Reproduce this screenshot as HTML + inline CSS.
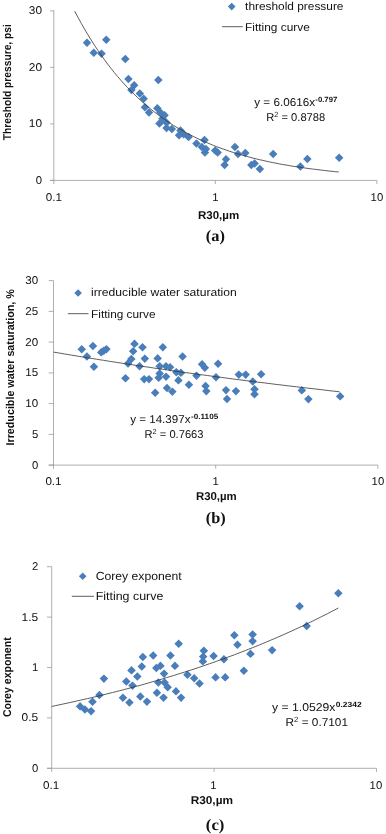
<!DOCTYPE html>
<html><head><meta charset="utf-8"><title>Figure</title>
<style>html,body{margin:0;padding:0;background:#fff}svg{display:block}</style></head>
<body><svg width="386" height="834" viewBox="0 0 386 834" text-rendering="geometricPrecision">
<rect width="386" height="834" fill="#fff"/>
<g stroke="#9a9a9a" stroke-width="0.8" fill="none" shape-rendering="auto">
<path d="M53.8 10.4V184.0"/>
<path d="M50.1 180.4H376.9"/>
<path d="M50.1 180.4H53.8"/>
<path d="M50.1 123.9H53.8"/>
<path d="M50.1 67.4H53.8"/>
<path d="M50.1 10.9H53.8"/>
<path d="M215.3 180.4v3.6"/>
<path d="M376.9 180.4v3.6"/>
</g>
<g fill="#111">
<text x="42.0" y="183.8" font-size="11.3" text-anchor="end" font-weight="normal" font-family='"Liberation Sans", Arial, sans-serif'>0</text>
<text x="42.0" y="127.3" font-size="11.3" text-anchor="end" font-weight="normal" font-family='"Liberation Sans", Arial, sans-serif' textLength="13.2" lengthAdjust="spacingAndGlyphs">10</text>
<text x="42.0" y="70.8" font-size="11.3" text-anchor="end" font-weight="normal" font-family='"Liberation Sans", Arial, sans-serif' textLength="13.2" lengthAdjust="spacingAndGlyphs">20</text>
<text x="42.0" y="14.3" font-size="11.3" text-anchor="end" font-weight="normal" font-family='"Liberation Sans", Arial, sans-serif' textLength="13.2" lengthAdjust="spacingAndGlyphs">30</text>
<text x="53.8" y="200.6" font-size="11.3" text-anchor="middle" font-weight="normal" font-family='"Liberation Sans", Arial, sans-serif' textLength="16.2" lengthAdjust="spacingAndGlyphs">0.1</text>
<text x="215.3" y="200.6" font-size="11.3" text-anchor="middle" font-weight="normal" font-family='"Liberation Sans", Arial, sans-serif'>1</text>
<text x="376.9" y="200.6" font-size="11.3" text-anchor="middle" font-weight="normal" font-family='"Liberation Sans", Arial, sans-serif' textLength="12.6" lengthAdjust="spacingAndGlyphs">10</text>
</g>
<g fill="#4a7ebb">
<path d="M87.0 38.5L91.2 42.8L87.0 47.0L82.8 42.8Z"/>
<path d="M106.3 35.5L110.5 39.7L106.3 44.0L102.0 39.7Z"/>
<path d="M93.8 48.5L98.0 52.7L93.8 57.0L89.5 52.7Z"/>
<path d="M101.5 49.4L105.8 53.6L101.5 57.9L97.2 53.6Z"/>
<path d="M125.3 54.8L129.6 59.0L125.3 63.2L121.0 59.0Z"/>
<path d="M128.4 74.7L132.7 78.9L128.4 83.2L124.2 78.9Z"/>
<path d="M134.2 81.0L138.4 85.3L134.2 89.5L129.9 85.3Z"/>
<path d="M131.4 85.8L135.7 90.1L131.4 94.3L127.2 90.1Z"/>
<path d="M139.8 89.2L144.1 93.4L139.8 97.7L135.6 93.4Z"/>
<path d="M143.7 94.5L147.9 98.7L143.7 103.0L139.4 98.7Z"/>
<path d="M158.3 75.7L162.6 79.9L158.3 84.2L154.1 79.9Z"/>
<path d="M144.9 103.0L149.2 107.3L144.9 111.5L140.7 107.3Z"/>
<path d="M149.0 108.2L153.2 112.5L149.0 116.8L144.8 112.5Z"/>
<path d="M157.3 104.0L161.6 108.3L157.3 112.5L153.1 108.3Z"/>
<path d="M160.4 108.2L164.7 112.5L160.4 116.8L156.2 112.5Z"/>
<path d="M164.6 111.0L168.8 115.2L164.6 119.5L160.3 115.2Z"/>
<path d="M162.5 114.5L166.8 118.7L162.5 123.0L158.2 118.7Z"/>
<path d="M159.4 119.2L163.7 123.5L159.4 127.8L155.2 123.5Z"/>
<path d="M166.6 118.5L170.8 122.8L166.6 127.0L162.3 122.8Z"/>
<path d="M166.6 123.8L170.8 128.0L166.6 132.2L162.3 128.0Z"/>
<path d="M171.8 124.8L176.1 129.1L171.8 133.3L167.6 129.1Z"/>
<path d="M180.5 126.2L184.8 130.4L180.5 134.7L176.2 130.4Z"/>
<path d="M179.1 131.1L183.3 135.3L179.1 139.6L174.8 135.3Z"/>
<path d="M183.6 130.1L187.8 134.3L183.6 138.6L179.3 134.3Z"/>
<path d="M188.5 132.8L192.8 137.1L188.5 141.3L184.2 137.1Z"/>
<path d="M196.4 139.3L200.7 143.6L196.4 147.8L192.2 143.6Z"/>
<path d="M204.5 135.8L208.8 140.1L204.5 144.3L200.2 140.1Z"/>
<path d="M201.8 142.7L206.1 146.9L201.8 151.2L197.6 146.9Z"/>
<path d="M205.9 144.8L210.2 149.0L205.9 153.2L201.7 149.0Z"/>
<path d="M204.9 148.2L209.2 152.5L204.9 156.8L200.7 152.5Z"/>
<path d="M215.2 146.2L219.4 150.4L215.2 154.7L210.9 150.4Z"/>
<path d="M217.7 148.2L221.9 152.5L217.7 156.8L213.4 152.5Z"/>
<path d="M226.0 155.1L230.2 159.3L226.0 163.6L221.8 159.3Z"/>
<path d="M224.6 160.7L228.8 164.9L224.6 169.2L220.3 164.9Z"/>
<path d="M234.9 142.7L239.2 146.9L234.9 151.2L230.7 146.9Z"/>
<path d="M238.0 149.7L242.2 153.9L238.0 158.2L233.8 153.9Z"/>
<path d="M245.3 148.8L249.6 153.1L245.3 157.3L241.1 153.1Z"/>
<path d="M251.3 160.7L255.6 164.9L251.3 169.2L247.1 164.9Z"/>
<path d="M254.6 159.2L258.9 163.5L254.6 167.8L250.3 163.5Z"/>
<path d="M259.9 164.7L264.1 168.9L259.9 173.2L255.6 168.9Z"/>
<path d="M273.2 149.7L277.4 153.9L273.2 158.2L268.9 153.9Z"/>
<path d="M300.4 162.2L304.6 166.4L300.4 170.7L296.1 166.4Z"/>
<path d="M307.4 154.8L311.6 159.1L307.4 163.3L303.1 159.1Z"/>
<path d="M339.2 153.4L343.4 157.7L339.2 161.9L334.9 157.7Z"/>
</g>
<path d="M74.7 11.2 L78.0 17.4 L81.3 23.4 L84.6 29.2 L87.9 34.7 L91.2 40.1 L94.5 45.3 L97.8 50.2 L101.1 55.0 L104.4 59.6 L107.7 64.1 L111.0 68.4 L114.3 72.5 L117.6 76.5 L120.9 80.3 L124.2 84.0 L127.5 87.5 L130.8 90.9 L134.1 94.2 L137.4 97.4 L140.7 100.5 L144.0 103.4 L147.3 106.2 L150.6 109.0 L153.9 111.6 L157.2 114.1 L160.5 116.6 L163.8 118.9 L167.1 121.2 L170.4 123.4 L173.7 125.5 L177.0 127.5 L180.3 129.4 L183.6 131.3 L186.9 133.1 L190.2 134.8 L193.5 136.5 L196.8 138.1 L200.1 139.7 L203.4 141.2 L206.8 142.6 L210.1 144.0 L213.4 145.4 L216.7 146.7 L220.0 147.9 L223.3 149.1 L226.6 150.2 L229.9 151.4 L233.2 152.4 L236.5 153.5 L239.8 154.4 L243.1 155.4 L246.4 156.3 L249.7 157.2 L253.0 158.1 L256.3 158.9 L259.6 159.7 L262.9 160.4 L266.2 161.2 L269.5 161.9 L272.8 162.6 L276.1 163.2 L279.4 163.9 L282.7 164.5 L286.0 165.0 L289.3 165.6 L292.6 166.2 L295.9 166.7 L299.2 167.2 L302.5 167.7 L305.8 168.1 L309.1 168.6 L312.4 169.0 L315.7 169.4 L319.0 169.8 L322.3 170.2 L325.6 170.6 L328.9 171.0 L332.2 171.3 L335.5 171.7 L338.8 172.0" fill="none" stroke="#333" stroke-width="0.8"/>
<g fill="#4a7ebb"><path d="M231.7 2.8L235.5 6.6L231.7 10.4L227.9 6.6Z"/></g>
<path d="M222.1 26.7H242.8" stroke="#333" stroke-width="0.8"/>
<g fill="#111">
<text x="245.1" y="9.8" font-size="11.3" text-anchor="start" font-weight="normal" font-family='"Liberation Sans", Arial, sans-serif' textLength="98.4" lengthAdjust="spacingAndGlyphs">threshold pressure</text>
<text x="245.1" y="31.1" font-size="11.3" text-anchor="start" font-weight="normal" font-family='"Liberation Sans", Arial, sans-serif' textLength="64.8" lengthAdjust="spacingAndGlyphs">Fitting curve</text>
<text x="254.2" y="105.7" font-size="11.3" font-family='"Liberation Sans", Arial, sans-serif'><tspan textLength="60.9" lengthAdjust="spacingAndGlyphs">y = 6.0616x</tspan></text>
<text x="315.3" y="101.7" font-size="7.5" font-weight="bold" font-family='"Liberation Sans", Arial, sans-serif' textLength="22.0" lengthAdjust="spacingAndGlyphs">-0.797</text>
<text x="266.2" y="120.6" font-size="11.3" font-family='"Liberation Sans", Arial, sans-serif' textLength="59.0" lengthAdjust="spacingAndGlyphs">R<tspan font-size="7.5" dy="-3.6">2</tspan><tspan dy="3.6"> = 0.8788</tspan></text>
<text x="198.0" y="219.2" font-size="11.3" text-anchor="start" font-weight="bold" font-family='"Liberation Sans", Arial, sans-serif' textLength="41.2" lengthAdjust="spacingAndGlyphs">R30,µm</text>
<text transform="translate(11.3 140.2) rotate(-90)" font-size="11.3" font-weight="bold" font-family='"Liberation Sans", Arial, sans-serif' textLength="116.0" lengthAdjust="spacingAndGlyphs">Threshold pressure, psi</text>
<text x="205.8" y="241.2" font-size="16" text-anchor="start" font-weight="bold" font-family='"Liberation Serif", "Times New Roman", serif' textLength="19.1" lengthAdjust="spacingAndGlyphs">(a)</text>
</g>
<g stroke="#9a9a9a" stroke-width="0.8" fill="none" shape-rendering="auto">
<path d="M53.5 280.6V468.7"/>
<path d="M48.7 465.1H377.9"/>
<path d="M48.7 465.1H53.5"/>
<path d="M48.7 434.4H53.5"/>
<path d="M48.7 403.6H53.5"/>
<path d="M48.7 372.9H53.5"/>
<path d="M48.7 342.1H53.5"/>
<path d="M48.7 311.4H53.5"/>
<path d="M48.7 280.6H53.5"/>
<path d="M215.7 465.1v3.6"/>
<path d="M377.9 465.1v3.6"/>
</g>
<g fill="#111">
<text x="38.2" y="468.5" font-size="11.3" text-anchor="end" font-weight="normal" font-family='"Liberation Sans", Arial, sans-serif'>0</text>
<text x="38.2" y="437.8" font-size="11.3" text-anchor="end" font-weight="normal" font-family='"Liberation Sans", Arial, sans-serif'>5</text>
<text x="38.2" y="407.0" font-size="11.3" text-anchor="end" font-weight="normal" font-family='"Liberation Sans", Arial, sans-serif' textLength="12.9" lengthAdjust="spacingAndGlyphs">10</text>
<text x="38.2" y="376.2" font-size="11.3" text-anchor="end" font-weight="normal" font-family='"Liberation Sans", Arial, sans-serif' textLength="12.9" lengthAdjust="spacingAndGlyphs">15</text>
<text x="38.2" y="345.5" font-size="11.3" text-anchor="end" font-weight="normal" font-family='"Liberation Sans", Arial, sans-serif' textLength="12.9" lengthAdjust="spacingAndGlyphs">20</text>
<text x="38.2" y="314.8" font-size="11.3" text-anchor="end" font-weight="normal" font-family='"Liberation Sans", Arial, sans-serif' textLength="12.9" lengthAdjust="spacingAndGlyphs">25</text>
<text x="38.2" y="284.0" font-size="11.3" text-anchor="end" font-weight="normal" font-family='"Liberation Sans", Arial, sans-serif' textLength="12.9" lengthAdjust="spacingAndGlyphs">30</text>
<text x="53.5" y="485.0" font-size="11.3" text-anchor="middle" font-weight="normal" font-family='"Liberation Sans", Arial, sans-serif' textLength="16.2" lengthAdjust="spacingAndGlyphs">0.1</text>
<text x="215.7" y="485.0" font-size="11.3" text-anchor="middle" font-weight="normal" font-family='"Liberation Sans", Arial, sans-serif'>1</text>
<text x="377.9" y="485.0" font-size="11.3" text-anchor="middle" font-weight="normal" font-family='"Liberation Sans", Arial, sans-serif' textLength="12.6" lengthAdjust="spacingAndGlyphs">10</text>
</g>
<g fill="#4a7ebb">
<path d="M81.7 345.1L86.0 349.3L81.7 353.6L77.5 349.3Z"/>
<path d="M92.9 341.8L97.2 346.0L92.9 350.2L88.7 346.0Z"/>
<path d="M86.9 352.2L91.2 356.5L86.9 360.8L82.7 356.5Z"/>
<path d="M93.9 362.4L98.2 366.7L93.9 370.9L89.7 366.7Z"/>
<path d="M101.2 348.1L105.5 352.4L101.2 356.6L97.0 352.4Z"/>
<path d="M106.4 344.9L110.7 349.1L106.4 353.4L102.2 349.1Z"/>
<path d="M103.8 346.4L108.0 350.7L103.8 354.9L99.5 350.7Z"/>
<path d="M125.5 374.1L129.8 378.3L125.5 382.6L121.2 378.3Z"/>
<path d="M128.0 359.2L132.2 363.5L128.0 367.8L123.8 363.5Z"/>
<path d="M134.5 339.6L138.8 343.9L134.5 348.1L130.2 343.9Z"/>
<path d="M142.5 342.9L146.8 347.2L142.5 351.4L138.2 347.2Z"/>
<path d="M133.2 347.1L137.4 351.3L133.2 355.6L128.9 351.3Z"/>
<path d="M131.3 354.8L135.6 359.0L131.3 363.2L127.1 359.0Z"/>
<path d="M144.8 354.4L149.1 358.6L144.8 362.9L140.6 358.6Z"/>
<path d="M139.6 362.1L143.8 366.3L139.6 370.6L135.3 366.3Z"/>
<path d="M144.2 374.9L148.4 379.1L144.2 383.4L139.9 379.1Z"/>
<path d="M149.0 374.9L153.2 379.1L149.0 383.4L144.8 379.1Z"/>
<path d="M162.8 342.9L167.1 347.2L162.8 351.4L158.6 347.2Z"/>
<path d="M157.7 354.1L161.9 358.4L157.7 362.6L153.4 358.4Z"/>
<path d="M159.7 362.1L163.9 366.3L159.7 370.6L155.4 366.3Z"/>
<path d="M166.0 362.1L170.2 366.3L166.0 370.6L161.8 366.3Z"/>
<path d="M170.1 363.1L174.3 367.3L170.1 371.6L165.8 367.3Z"/>
<path d="M159.7 369.2L163.9 373.5L159.7 377.8L155.4 373.5Z"/>
<path d="M158.7 373.4L162.9 377.7L158.7 381.9L154.4 377.7Z"/>
<path d="M166.0 372.4L170.2 376.6L166.0 380.9L161.8 376.6Z"/>
<path d="M155.2 388.6L159.4 392.8L155.2 397.1L150.9 392.8Z"/>
<path d="M167.0 383.8L171.2 388.0L167.0 392.2L162.8 388.0Z"/>
<path d="M172.3 387.4L176.6 391.6L172.3 395.9L168.1 391.6Z"/>
<path d="M182.6 352.2L186.8 356.5L182.6 360.8L178.3 356.5Z"/>
<path d="M176.3 367.9L180.6 372.1L176.3 376.4L172.1 372.1Z"/>
<path d="M180.9 368.6L185.2 372.9L180.9 377.1L176.7 372.9Z"/>
<path d="M178.4 376.1L182.7 380.4L178.4 384.6L174.2 380.4Z"/>
<path d="M188.9 380.4L193.2 384.7L188.9 388.9L184.7 384.7Z"/>
<path d="M196.5 371.4L200.8 375.6L196.5 379.9L192.2 375.6Z"/>
<path d="M202.1 359.9L206.3 364.2L202.1 368.4L197.8 364.2Z"/>
<path d="M204.8 363.4L209.1 367.7L204.8 371.9L200.6 367.7Z"/>
<path d="M205.6 381.8L209.8 386.0L205.6 390.2L201.3 386.0Z"/>
<path d="M206.3 386.9L210.6 391.1L206.3 395.4L202.1 391.1Z"/>
<path d="M218.1 359.6L222.3 363.8L218.1 368.1L213.8 363.8Z"/>
<path d="M216.0 373.1L220.2 377.3L216.0 381.6L211.8 377.3Z"/>
<path d="M226.0 385.9L230.2 390.1L226.0 394.4L221.8 390.1Z"/>
<path d="M227.0 394.8L231.2 399.0L227.0 403.2L222.8 399.0Z"/>
<path d="M235.9 386.9L240.2 391.1L235.9 395.4L231.7 391.1Z"/>
<path d="M238.8 370.4L243.1 374.6L238.8 378.9L234.6 374.6Z"/>
<path d="M245.7 370.4L249.9 374.6L245.7 378.9L241.4 374.6Z"/>
<path d="M252.8 377.2L257.1 381.5L252.8 385.8L248.6 381.5Z"/>
<path d="M261.1 369.9L265.4 374.2L261.1 378.4L256.9 374.2Z"/>
<path d="M254.5 385.1L258.8 389.3L254.5 393.6L250.2 389.3Z"/>
<path d="M254.5 390.1L258.8 394.3L254.5 398.6L250.2 394.3Z"/>
<path d="M301.8 386.1L306.1 390.4L301.8 394.6L297.6 390.4Z"/>
<path d="M308.4 394.9L312.6 399.1L308.4 403.4L304.1 399.1Z"/>
<path d="M340.2 392.1L344.4 396.4L340.2 400.6L335.9 396.4Z"/>
</g>
<path d="M53.5 352.1 L57.1 352.7 L60.7 353.3 L64.2 353.9 L67.8 354.5 L71.4 355.1 L75.0 355.7 L78.5 356.3 L82.1 356.9 L85.7 357.5 L89.3 358.1 L92.8 358.6 L96.4 359.2 L100.0 359.8 L103.6 360.3 L107.1 360.9 L110.7 361.5 L114.3 362.0 L117.9 362.6 L121.4 363.1 L125.0 363.7 L128.6 364.2 L132.2 364.8 L135.8 365.3 L139.3 365.8 L142.9 366.4 L146.5 366.9 L150.1 367.4 L153.6 368.0 L157.2 368.5 L160.8 369.0 L164.4 369.5 L167.9 370.0 L171.5 370.6 L175.1 371.1 L178.7 371.6 L182.2 372.1 L185.8 372.6 L189.4 373.1 L193.0 373.6 L196.6 374.1 L200.1 374.6 L203.7 375.0 L207.3 375.5 L210.9 376.0 L214.4 376.5 L218.0 377.0 L221.6 377.4 L225.2 377.9 L228.7 378.4 L232.3 378.9 L235.9 379.3 L239.5 379.8 L243.0 380.2 L246.6 380.7 L250.2 381.2 L253.8 381.6 L257.3 382.1 L260.9 382.5 L264.5 382.9 L268.1 383.4 L271.7 383.8 L275.2 384.3 L278.8 384.7 L282.4 385.1 L286.0 385.6 L289.5 386.0 L293.1 386.4 L296.7 386.8 L300.3 387.3 L303.8 387.7 L307.4 388.1 L311.0 388.5 L314.6 388.9 L318.1 389.3 L321.7 389.7 L325.3 390.2 L328.9 390.6 L332.4 391.0 L336.0 391.4 L339.6 391.8" fill="none" stroke="#333" stroke-width="0.8"/>
<g fill="#4a7ebb"><path d="M78.1 289.2L81.9 293.0L78.1 296.8L74.3 293.0Z"/></g>
<path d="M67.8 313.7H88.5" stroke="#333" stroke-width="0.8"/>
<g fill="#111">
<text x="91.1" y="296.1" font-size="11.3" text-anchor="start" font-weight="normal" font-family='"Liberation Sans", Arial, sans-serif' textLength="145.7" lengthAdjust="spacingAndGlyphs">irreducible water saturation</text>
<text x="91.1" y="318.1" font-size="11.3" text-anchor="start" font-weight="normal" font-family='"Liberation Sans", Arial, sans-serif' textLength="64.4" lengthAdjust="spacingAndGlyphs">Fitting curve</text>
<text x="130.2" y="422.8" font-size="11.3" font-family='"Liberation Sans", Arial, sans-serif'><tspan textLength="60.3" lengthAdjust="spacingAndGlyphs">y = 14.397x</tspan></text>
<text x="191.0" y="418.8" font-size="7.5" font-weight="bold" font-family='"Liberation Sans", Arial, sans-serif' textLength="27.2" lengthAdjust="spacingAndGlyphs">-0.1105</text>
<text x="144.5" y="437.6" font-size="11.3" font-family='"Liberation Sans", Arial, sans-serif' textLength="59.0" lengthAdjust="spacingAndGlyphs">R<tspan font-size="7.5" dy="-3.6">2</tspan><tspan dy="3.6"> = 0.7663</tspan></text>
<text x="195.9" y="500.3" font-size="11.3" text-anchor="start" font-weight="bold" font-family='"Liberation Sans", Arial, sans-serif' textLength="40.9" lengthAdjust="spacingAndGlyphs">R30,µm</text>
<text transform="translate(14.0 445.5) rotate(-90)" font-size="11.3" font-weight="bold" font-family='"Liberation Sans", Arial, sans-serif' textLength="156.3" lengthAdjust="spacingAndGlyphs">Irreducible water saturation, %</text>
<text x="205.8" y="522.9" font-size="16" text-anchor="start" font-weight="bold" font-family='"Liberation Serif", "Times New Roman", serif' textLength="19.9" lengthAdjust="spacingAndGlyphs">(b)</text>
</g>
<g stroke="#9a9a9a" stroke-width="0.8" fill="none" shape-rendering="auto">
<path d="M51.7 566.8V771.9"/>
<path d="M47.0 768.3H376.5"/>
<path d="M47.0 768.3H51.7"/>
<path d="M47.0 717.9H51.7"/>
<path d="M47.0 667.5H51.7"/>
<path d="M47.0 617.1H51.7"/>
<path d="M47.0 566.7H51.7"/>
<path d="M214.1 768.3v3.6"/>
<path d="M376.5 768.3v3.6"/>
</g>
<g fill="#111">
<text x="38.2" y="771.7" font-size="11.3" text-anchor="end" font-weight="normal" font-family='"Liberation Sans", Arial, sans-serif'>0</text>
<text x="38.2" y="721.3" font-size="11.3" text-anchor="end" font-weight="normal" font-family='"Liberation Sans", Arial, sans-serif' textLength="16.6" lengthAdjust="spacingAndGlyphs">0.5</text>
<text x="38.2" y="670.9" font-size="11.3" text-anchor="end" font-weight="normal" font-family='"Liberation Sans", Arial, sans-serif'>1</text>
<text x="38.2" y="620.5" font-size="11.3" text-anchor="end" font-weight="normal" font-family='"Liberation Sans", Arial, sans-serif' textLength="16.6" lengthAdjust="spacingAndGlyphs">1.5</text>
<text x="38.2" y="570.1" font-size="11.3" text-anchor="end" font-weight="normal" font-family='"Liberation Sans", Arial, sans-serif'>2</text>
<text x="51.1" y="788.6" font-size="11.3" text-anchor="middle" font-weight="normal" font-family='"Liberation Sans", Arial, sans-serif' textLength="16.2" lengthAdjust="spacingAndGlyphs">0.1</text>
<text x="213.5" y="788.6" font-size="11.3" text-anchor="middle" font-weight="normal" font-family='"Liberation Sans", Arial, sans-serif'>1</text>
<text x="375.9" y="788.6" font-size="11.3" text-anchor="middle" font-weight="normal" font-family='"Liberation Sans", Arial, sans-serif' textLength="12.6" lengthAdjust="spacingAndGlyphs">10</text>
</g>
<g fill="#4a7ebb">
<path d="M80.1 702.1L84.3 706.4L80.1 710.6L75.8 706.4Z"/>
<path d="M84.9 705.2L89.2 709.5L84.9 713.8L80.7 709.5Z"/>
<path d="M91.1 706.9L95.3 711.1L91.1 715.4L86.8 711.1Z"/>
<path d="M92.5 697.5L96.8 701.8L92.5 706.0L88.2 701.8Z"/>
<path d="M99.4 690.8L103.7 695.0L99.4 699.2L95.2 695.0Z"/>
<path d="M103.9 674.4L108.2 678.6L103.9 682.9L99.7 678.6Z"/>
<path d="M122.9 693.5L127.2 697.7L122.9 702.0L118.7 697.7Z"/>
<path d="M129.4 698.2L133.7 702.5L129.4 706.8L125.2 702.5Z"/>
<path d="M126.3 677.2L130.6 681.5L126.3 685.8L122.0 681.5Z"/>
<path d="M131.5 666.1L135.8 670.4L131.5 674.6L127.2 670.4Z"/>
<path d="M132.5 681.4L136.8 685.6L132.5 689.9L128.2 685.6Z"/>
<path d="M137.3 672.2L141.6 676.5L137.3 680.8L133.1 676.5Z"/>
<path d="M140.3 692.2L144.6 696.5L140.3 700.8L136.1 696.5Z"/>
<path d="M141.8 662.2L146.1 666.5L141.8 670.8L137.6 666.5Z"/>
<path d="M142.8 652.8L147.1 657.0L142.8 661.2L138.6 657.0Z"/>
<path d="M153.2 651.2L157.4 655.5L153.2 659.8L148.9 655.5Z"/>
<path d="M170.4 651.2L174.7 655.5L170.4 659.8L166.2 655.5Z"/>
<path d="M178.7 639.5L182.9 643.7L178.7 648.0L174.4 643.7Z"/>
<path d="M146.9 697.4L151.2 701.6L146.9 705.9L142.7 701.6Z"/>
<path d="M156.3 663.8L160.6 668.0L156.3 672.2L152.1 668.0Z"/>
<path d="M160.4 661.6L164.7 665.9L160.4 670.1L156.2 665.9Z"/>
<path d="M174.9 661.6L179.2 665.9L174.9 670.1L170.7 665.9Z"/>
<path d="M164.1 669.4L168.3 673.6L164.1 677.9L159.8 673.6Z"/>
<path d="M158.3 678.2L162.6 682.5L158.3 686.8L154.1 682.5Z"/>
<path d="M164.6 678.2L168.8 682.5L164.6 686.8L160.3 682.5Z"/>
<path d="M167.7 683.0L171.9 687.3L167.7 691.5L163.4 687.3Z"/>
<path d="M156.9 688.5L161.2 692.8L156.9 697.0L152.7 692.8Z"/>
<path d="M163.5 693.4L167.8 697.6L163.5 701.9L159.2 697.6Z"/>
<path d="M176.0 687.1L180.2 691.4L176.0 695.6L171.8 691.4Z"/>
<path d="M181.1 693.4L185.3 697.6L181.1 701.9L176.8 697.6Z"/>
<path d="M187.4 670.5L191.7 674.8L187.4 679.0L183.2 674.8Z"/>
<path d="M194.2 674.0L198.4 678.3L194.2 682.5L189.9 678.3Z"/>
<path d="M199.5 679.2L203.8 683.5L199.5 687.8L195.2 683.5Z"/>
<path d="M203.8 646.5L208.1 650.8L203.8 655.0L199.6 650.8Z"/>
<path d="M203.2 652.4L207.4 656.6L203.2 660.9L198.9 656.6Z"/>
<path d="M202.8 657.1L207.1 661.4L202.8 665.6L198.6 661.4Z"/>
<path d="M213.6 651.8L217.8 656.0L213.6 660.2L209.3 656.0Z"/>
<path d="M223.9 655.0L228.2 659.3L223.9 663.5L219.7 659.3Z"/>
<path d="M215.6 673.1L219.8 677.4L215.6 681.6L211.3 677.4Z"/>
<path d="M225.2 673.1L229.4 677.4L225.2 681.6L220.9 677.4Z"/>
<path d="M234.3 631.0L238.6 635.3L234.3 639.5L230.1 635.3Z"/>
<path d="M237.4 640.5L241.7 644.8L237.4 649.0L233.2 644.8Z"/>
<path d="M243.8 666.5L248.1 670.7L243.8 675.0L239.6 670.7Z"/>
<path d="M250.5 649.6L254.8 653.9L250.5 658.1L246.2 653.9Z"/>
<path d="M252.6 630.2L256.9 634.5L252.6 638.8L248.3 634.5Z"/>
<path d="M252.6 636.9L256.9 641.1L252.6 645.4L248.3 641.1Z"/>
<path d="M272.1 645.9L276.4 650.1L272.1 654.4L267.9 650.1Z"/>
<path d="M299.6 602.0L303.9 606.3L299.6 610.5L295.4 606.3Z"/>
<path d="M306.7 621.8L310.9 626.0L306.7 630.2L302.4 626.0Z"/>
<path d="M338.3 589.0L342.6 593.2L338.3 597.5L334.1 593.2Z"/>
</g>
<path d="M51.7 706.4 L55.3 705.7 L58.9 704.9 L62.4 704.2 L66.0 703.4 L69.6 702.6 L73.2 701.8 L76.8 701.0 L80.4 700.2 L83.9 699.4 L87.5 698.6 L91.1 697.8 L94.7 696.9 L98.3 696.1 L101.9 695.2 L105.4 694.3 L109.0 693.4 L112.6 692.5 L116.2 691.6 L119.8 690.7 L123.4 689.8 L126.9 688.8 L130.5 687.9 L134.1 686.9 L137.7 686.0 L141.3 685.0 L144.8 684.0 L148.4 683.0 L152.0 681.9 L155.6 680.9 L159.2 679.9 L162.8 678.8 L166.3 677.7 L169.9 676.6 L173.5 675.6 L177.1 674.4 L180.7 673.3 L184.3 672.2 L187.8 671.0 L191.4 669.9 L195.0 668.7 L198.6 667.5 L202.2 666.3 L205.7 665.1 L209.3 663.8 L212.9 662.6 L216.5 661.3 L220.1 660.0 L223.7 658.7 L227.2 657.4 L230.8 656.1 L234.4 654.8 L238.0 653.4 L241.6 652.0 L245.2 650.6 L248.7 649.2 L252.3 647.8 L255.9 646.4 L259.5 644.9 L263.1 643.4 L266.6 641.9 L270.2 640.4 L273.8 638.9 L277.4 637.3 L281.0 635.8 L284.6 634.2 L288.1 632.6 L291.7 631.0 L295.3 629.3 L298.9 627.7 L302.5 626.0 L306.1 624.3 L309.6 622.5 L313.2 620.8 L316.8 619.0 L320.4 617.2 L324.0 615.4 L327.6 613.6 L331.1 611.8 L334.7 609.9 L338.3 608.0" fill="none" stroke="#333" stroke-width="0.8"/>
<g fill="#4a7ebb"><path d="M82.7 572.5L86.5 576.3L82.7 580.1L78.9 576.3Z"/></g>
<path d="M71.8 596.3H93.9" stroke="#333" stroke-width="0.8"/>
<g fill="#111">
<text x="95.7" y="580.1" font-size="11.8" text-anchor="start" font-weight="normal" font-family='"Liberation Sans", Arial, sans-serif' textLength="86.0" lengthAdjust="spacingAndGlyphs">Corey exponent</text>
<text x="95.7" y="600.2" font-size="11.8" text-anchor="start" font-weight="normal" font-family='"Liberation Sans", Arial, sans-serif' textLength="67.6" lengthAdjust="spacingAndGlyphs">Fitting curve</text>
<text x="272.0" y="710.7" font-size="11.3" font-family='"Liberation Sans", Arial, sans-serif'><tspan textLength="63.4" lengthAdjust="spacingAndGlyphs">y = 1.0529x</tspan></text>
<text x="335.8" y="706.7" font-size="7.5" font-weight="bold" font-family='"Liberation Sans", Arial, sans-serif' textLength="25.8" lengthAdjust="spacingAndGlyphs">0.2342</text>
<text x="285.5" y="725.5" font-size="11.3" font-family='"Liberation Sans", Arial, sans-serif' textLength="62.5" lengthAdjust="spacingAndGlyphs">R<tspan font-size="7.5" dy="-3.6">2</tspan><tspan dy="3.6"> = 0.7101</tspan></text>
<text x="190.7" y="804.2" font-size="11.3" text-anchor="start" font-weight="bold" font-family='"Liberation Sans", Arial, sans-serif' textLength="42.3" lengthAdjust="spacingAndGlyphs">R30,µm</text>
<text transform="translate(10.7 717.1) rotate(-90)" font-size="11.3" font-weight="bold" font-family='"Liberation Sans", Arial, sans-serif' textLength="79.8" lengthAdjust="spacingAndGlyphs">Corey exponent</text>
<text x="205.8" y="829.6" font-size="16" text-anchor="start" font-weight="bold" font-family='"Liberation Serif", "Times New Roman", serif' textLength="18.6" lengthAdjust="spacingAndGlyphs">(c)</text>
</g>
</svg></body></html>
